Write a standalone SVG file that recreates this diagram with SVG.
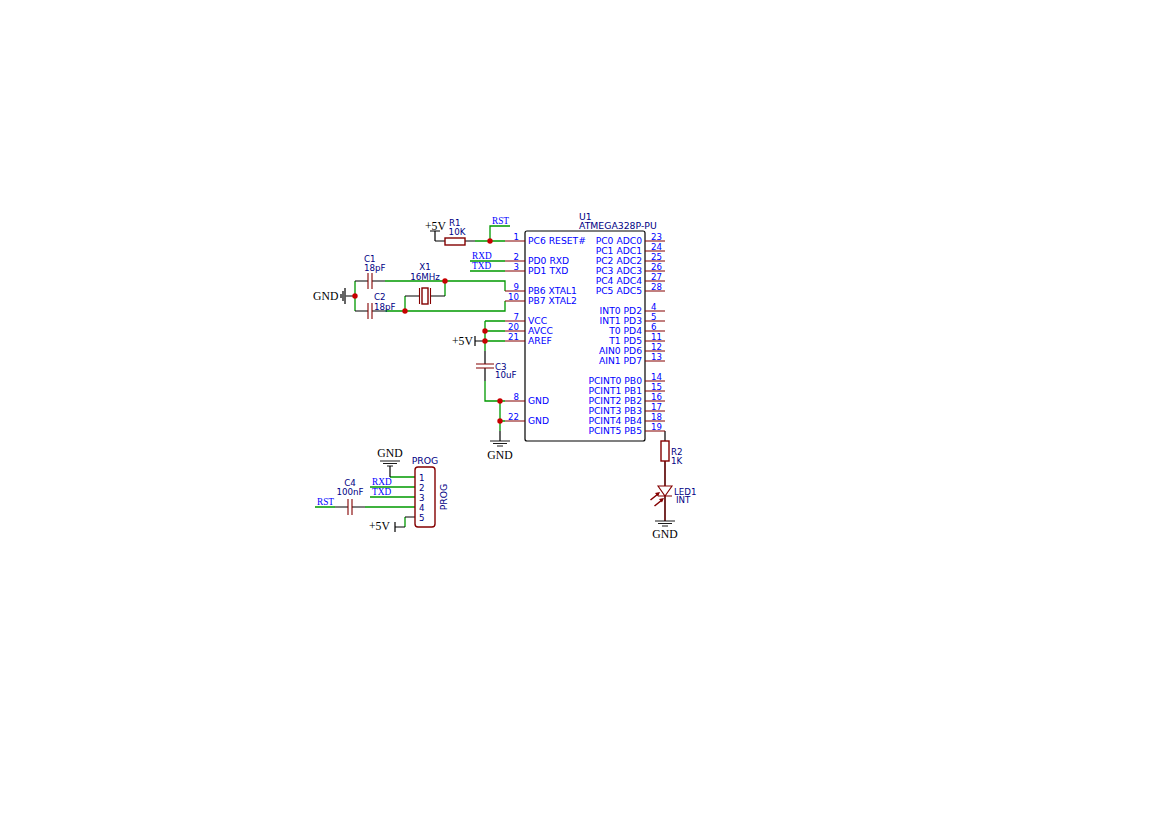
<svg xmlns="http://www.w3.org/2000/svg" width="1169" height="827" viewBox="0 0 1169 827">
<style>
text{font-family:"DejaVu Sans",sans-serif}
.ref{font-size:8.7px;fill:#000084}
.name{font-size:9.2px;fill:#0000ff}
.num{font-size:8.6px;fill:#0000ff}
.s{font-family:"Liberation Serif",serif}
.pw{font-size:11.7px;fill:#000}
.net{font-size:9.3px;fill:#0000ff}
.e{text-anchor:end}.m{text-anchor:middle}
.w{fill:none;stroke:#009900;stroke-width:1.3}
.b{fill:none;stroke:#000;stroke-width:1.2}
.p{fill:none;stroke:#840000;stroke-width:1.1}
.g{fill:none;stroke:#555;stroke-width:1.8}
.t{fill:none;stroke:#000;stroke-width:.9}
.body{fill:#fff;stroke:#840000;stroke-width:1.4}
.j{fill:#c80000;stroke:none}
</style>
<rect width="1169" height="827" fill="#fff"/>
<g id="connectors">
<path class="w" d="M475 241H505M490 241V226H510M470 261H505M470 271H505M355 281V311M385 281H505V291M385 311H505V301M445 281V296M405 296V311M485 321H505M485 331H505M485 341H505M485 321V351M485 381V401H505M500 401V431M500 421H505M390 477H415M370 487H415M370 497H415M315 507H335M365 507H415M405 527V517"/>
<path class="b" d="M435 241H445M465 241H475M355 281H368M372 281H385M355 311H368M372 311H385M345 296H355M405 296H419M431 296H445M475 341H485M485 351V364M485 368V381M500 431V441M665 431V441M665 461V486M665 496V521M390 466V477M335 507H348M352 507H365M395 527H405M405 517H415"/>
</g>
<g id="U1">
<rect x="525" y="231" width="120" height="210" rx="2" fill="#fff" stroke="#000" stroke-width="1.2"/>
<path class="p" d="M505 241H525M505 261H525M505 271H525M505 291H525M505 301H525M505 321H525M505 331H525M505 341H525M505 401H525M505 421H525M645 241H665M645 251H665M645 261H665M645 271H665M645 281H665M645 291H665M645 311H665M645 321H665M645 331H665M645 341H665M645 351H665M645 361H665M645 381H665M645 391H665M645 401H665M645 411H665M645 421H665M645 431H665"/>
<text class="ref" x="579" y="220" style="font-size:9.300px">U1</text>
<text class="ref" x="579" y="229" style="font-size:9.300px">ATMEGA328P-PU</text>
<text class="num e" x="519" y="239.500">1</text><text class="name" x="528" y="244">PC6 RESET#</text>
<text class="num e" x="519" y="259.500">2</text><text class="name" x="528" y="264">PD0 RXD</text>
<text class="num e" x="519" y="269.500">3</text><text class="name" x="528" y="274">PD1 TXD</text>
<text class="num e" x="519" y="289.500">9</text><text class="name" x="528" y="294">PB6 XTAL1</text>
<text class="num e" x="519" y="299.500">10</text><text class="name" x="528" y="304">PB7 XTAL2</text>
<text class="num e" x="519" y="319.500">7</text><text class="name" x="528" y="324">VCC</text>
<text class="num e" x="519" y="329.500">20</text><text class="name" x="528" y="334">AVCC</text>
<text class="num e" x="519" y="339.500">21</text><text class="name" x="528" y="344">AREF</text>
<text class="num e" x="519" y="399.500">8</text><text class="name" x="528" y="404">GND</text>
<text class="num e" x="519" y="419.500">22</text><text class="name" x="528" y="424">GND</text>
<text class="num" x="651" y="239.500">23</text><text class="name e" x="642" y="244">PC0 ADC0</text>
<text class="num" x="651" y="249.500">24</text><text class="name e" x="642" y="254">PC1 ADC1</text>
<text class="num" x="651" y="259.500">25</text><text class="name e" x="642" y="264">PC2 ADC2</text>
<text class="num" x="651" y="269.500">26</text><text class="name e" x="642" y="274">PC3 ADC3</text>
<text class="num" x="651" y="279.500">27</text><text class="name e" x="642" y="284">PC4 ADC4</text>
<text class="num" x="651" y="289.500">28</text><text class="name e" x="642" y="294">PC5 ADC5</text>
<text class="num" x="651" y="309.500">4</text><text class="name e" x="642" y="314">INT0 PD2</text>
<text class="num" x="651" y="319.500">5</text><text class="name e" x="642" y="324">INT1 PD3</text>
<text class="num" x="651" y="329.500">6</text><text class="name e" x="642" y="334">T0 PD4</text>
<text class="num" x="651" y="339.500">11</text><text class="name e" x="642" y="344">T1 PD5</text>
<text class="num" x="651" y="349.500">12</text><text class="name e" x="642" y="354">AIN0 PD6</text>
<text class="num" x="651" y="359.500">13</text><text class="name e" x="642" y="364">AIN1 PD7</text>
<text class="num" x="651" y="379.500">14</text><text class="name e" x="642" y="384">PCINT0 PB0</text>
<text class="num" x="651" y="389.500">15</text><text class="name e" x="642" y="394">PCINT1 PB1</text>
<text class="num" x="651" y="399.500">16</text><text class="name e" x="642" y="404">PCINT2 PB2</text>
<text class="num" x="651" y="409.500">17</text><text class="name e" x="642" y="414">PCINT3 PB3</text>
<text class="num" x="651" y="419.500">18</text><text class="name e" x="642" y="424">PCINT4 PB4</text>
<text class="num" x="651" y="429.500">19</text><text class="name e" x="642" y="434">PCINT5 PB5</text>
</g>
<g id="R1"><rect class="body" x="445" y="238" width="20" height="7"/><text class="ref" x="449" y="226">R1</text><text class="ref m" x="457" y="235">10K</text></g>
<g id="pwr1"><path class="b" d="M430 231H440M435 231V241"/><text class="s pw" x="425" y="230">+5V</text></g>
<g id="netRST"><text class="s net" x="492" y="224">RST</text></g>
<g id="netRXD"><text class="s net" x="472" y="259">RXD</text></g>
<g id="netTXD"><text class="s net" x="472" y="269">TXD</text></g>
<g id="C1"><path class="p" d="M368 273V289M372 273V289"/><text class="ref" x="364" y="262">C1</text><text class="ref" x="364" y="271">18pF</text></g>
<g id="C2"><path class="p" d="M368 303V319M372 303V319"/><text class="ref" x="374" y="300">C2</text><text class="ref" x="374" y="310">18pF</text></g>
<g id="X1"><path class="p" d="M419.500 288V304M430.500 288V304"/><rect class="body" x="422" y="288" width="6" height="16"/><text class="ref m" x="425" y="270">X1</text><text class="ref m" x="425" y="280">16MHz</text></g>
<g id="gnd1"><path class="g" d="M345 288V304M343 291V301M341 294V298"/><text class="s pw" x="313" y="300">GND</text></g>
<g id="pwr2"><path class="b" d="M475 336V346"/><text class="s pw" x="452" y="345">+5V</text></g>
<g id="C3"><path class="p" d="M476 364H494M476 368H494"/><text class="ref" x="495" y="370">C3</text><text class="ref" x="495" y="378">10uF</text></g>
<g id="gnd2"><path class="t" d="M490 441H510M493 443.500H507M497 446H503"/><text class="s pw m" x="500" y="459">GND</text></g>
<g id="R2"><rect class="body" x="661" y="441" width="8" height="20"/><text class="ref" x="671" y="455">R2</text><text class="ref" x="671" y="464">1K</text></g>
<g id="LED1"><path class="p" d="M658 486H672L665 496ZM658 496H672M665 461V486M665 496V521"/><path class="p" d="M650.500 500L658 494M654.500 506L662 500" style="stroke-width:1.6"/><path d="M660 492L655 493L658 496.500ZM664 498L659 499L662 502.500Z" fill="#840000"/><text class="ref" x="674" y="495">LED1</text><text class="ref" x="676" y="503">INT</text></g>
<g id="gnd3"><path class="t" d="M655 521H675M658 523.500H672M662 526H668"/><text class="s pw m" x="665" y="538">GND</text></g>
<g id="PROG"><rect x="415" y="467" width="20" height="60" rx="3" fill="#fff" stroke="#840000" stroke-width="1.400"/><text class="ref m" x="425" y="464" style="font-size:9.300px">PROG</text><text class="ref m" transform="translate(447 497) rotate(-90)" style="font-size:9.300px">PROG</text><text class="ref" x="419" y="481">1</text><text class="ref" x="419" y="491">2</text><text class="ref" x="419" y="501">3</text><text class="ref" x="419" y="511">4</text><text class="ref" x="419" y="521">5</text></g>
<g id="gnd4"><path class="t" d="M380 461H400M383 463.500H397M387 466H393"/><text class="s pw m" x="390" y="457">GND</text></g>
<g id="netRXD2"><text class="s net" x="372" y="485">RXD</text></g>
<g id="netTXD2"><text class="s net" x="372" y="495">TXD</text></g>
<g id="netRST2"><text class="s net" x="317" y="505">RST</text></g>
<g id="C4"><path class="p" d="M348 499V515M352 499V515"/><text class="ref m" x="350" y="486">C4</text><text class="ref m" x="350" y="495">100nF</text></g>
<g id="pwr3"><path class="b" d="M395 522V532"/><text class="s pw" x="369" y="530">+5V</text></g>
<g id="junctions" class="j">
<circle cx="490" cy="241" r="2.700"/><circle cx="355" cy="296" r="2.700"/><circle cx="445" cy="281" r="2.700"/><circle cx="405" cy="311" r="2.700"/><circle cx="485" cy="331" r="2.700"/><circle cx="485" cy="341" r="2.700"/><circle cx="500" cy="401" r="2.700"/><circle cx="500" cy="421" r="2.700"/>
</g>
</svg>
